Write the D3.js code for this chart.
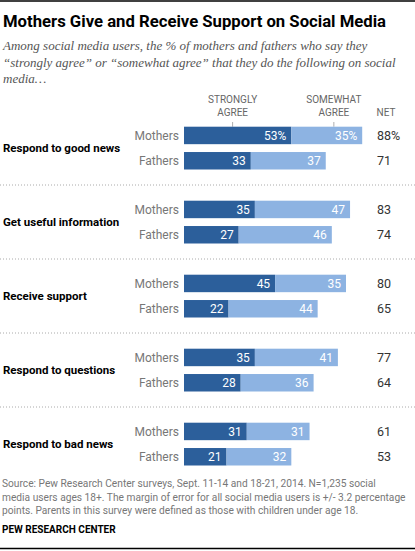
<!DOCTYPE html>
<html>
<head>
<meta charset="utf-8">
<script src="https://cdn.jsdelivr.net/npm/d3@7"></script>
<style>
  body { margin: 0; background: #fff; }
  svg { display: block; font-family: Roboto, "Liberation Sans", sans-serif; }
  .title { font-weight: bold; font-size: 16.7px; fill: #000; }
  .subtitle { font-family: "Liberation Serif", serif; font-style: italic; font-size: 13px; fill: #555; }
  .cat { font-weight: bold; font-size: 11.5px; fill: #000; }
  .who { font-size: 12px; fill: #777; }
  .val { font-size: 12px; fill: #fff; }
  .net { font-size: 12.5px; fill: #333; }
  .head { font-size: 10px; fill: #666; }
  .note { font-size: 10.2px; fill: #777; }
  .brand { font-size: 10px; font-weight: bold; fill: #000; }
</style>
</head>
<body>
<div id="chart"></div>
<script>
// data
const categories = [
  "Respond to good news",
  "Get useful information",
  "Receive support",
  "Respond to questions",
  "Respond to bad news"
];
const groups = ["Mothers", "Fathers"];
const stronglyMothers = [53, 35, 45, 35, 31];
const somewhatMothers = [35, 47, 35, 41, 31];
const stronglyFathers = [33, 27, 22, 28, 21];
const somewhatFathers = [37, 46, 44, 36, 32];
const netMothers = [88, 83, 80, 77, 61];
const netFathers = [71, 74, 65, 64, 53];

const rows = [];
categories.forEach((c, i) => {
  rows.push({ cat: c, who: "Mothers", strong: stronglyMothers[i], some: somewhatMothers[i], net: netMothers[i], first: i === 0 });
  rows.push({ cat: c, who: "Fathers", strong: stronglyFathers[i], some: somewhatFathers[i], net: netFathers[i], first: false });
});

const width = 415, height = 551;
const darkBlue = "#2c5f9b", lightBlue = "#8db3e2";

const svg = d3.select("#chart").append("svg")
  .attr("width", width)
  .attr("height", height);

/** SCALES */
const xScale = d3.scaleLinear().domain([0, 100]).range([184, 386.5]);
const yGroup = d3.scaleBand().domain(categories).range([111, 481]);
const yInner = d3.scaleBand().domain(groups).range([15.7, 58.5]).paddingInner(0.31);

// top & bottom rules
svg.append("line").attr("x1", 0).attr("x2", width).attr("y1", 1).attr("y2", 1)
  .attr("stroke", "#000").attr("stroke-width", 1.5);
svg.append("line").attr("x1", 0).attr("x2", width).attr("y1", 548.5).attr("y2", 548.5)
  .attr("stroke", "#000").attr("stroke-width", 1.5);

svg.append("text").attr("class", "title").attr("x", 3).attr("y", 27)
  .text("Mothers Give and Receive Support on Social Media");

const subLines = [
  "Among social media users, the % of mothers and fathers who say they",
  "\u201cstrongly agree\u201d or \u201csomewhat agree\u201d that they do the following on social",
  "media\u2026"
];
svg.append("g").selectAll("text").data(subLines).join("text")
  .attr("class", "subtitle").attr("x", 3).attr("y", (d, i) => 50 + i * 16.5)
  .text(d => d);

// column heads
const heads = [
  { lines: ["STRONGLY", "AGREE"], at: 24 },
  { lines: ["SOMEWHAT", "AGREE"], at: 74 }
];
heads.forEach(h => {
  const g = svg.append("g");
  g.selectAll("text").data(h.lines).join("text")
    .attr("class", "head").attr("text-anchor", "middle")
    .attr("x", xScale(h.at)).attr("y", (d, i) => 103 + i * 12.5)
    .text(d => d);
  g.append("line")
    .attr("x1", xScale(h.at)).attr("x2", xScale(h.at))
    .attr("y1", 122).attr("y2", yGroup(categories[0]) + yInner("Mothers"))
    .attr("stroke", "#999").attr("stroke-width", 0.8);
});
svg.append("text").attr("class", "head").attr("text-anchor", "middle")
  .attr("x", 386).attr("y", 115.5).text("NET");

// separators
svg.append("g").selectAll("line").data(categories.slice(1)).join("line")
  .attr("x1", 0).attr("x2", width)
  .attr("y1", d => yGroup(d)).attr("y2", d => yGroup(d))
  .attr("stroke", "#aaa").attr("stroke-width", 1).attr("stroke-dasharray", "1,2");

// category labels
svg.append("g").selectAll("text").data(categories).join("text")
  .attr("class", "cat").attr("x", 3)
  .attr("y", d => yGroup(d) + (yInner("Mothers") + yInner("Fathers") + yInner.bandwidth()) / 2)
  .attr("dy", "0.35em")
  .text(d => d);

const rowY = d => yGroup(d.cat) + yInner(d.who);
const bh = yInner.bandwidth();

const row = svg.append("g").selectAll("g").data(rows).join("g");

row.append("text").attr("class", "who").attr("text-anchor", "end")
  .attr("x", xScale(0) - 5).attr("y", d => rowY(d) + bh / 2).attr("dy", "0.35em")
  .text(d => d.who);

row.append("rect")
  .attr("x", xScale(0)).attr("y", rowY)
  .attr("width", d => xScale(d.strong) - xScale(0)).attr("height", bh)
  .attr("fill", darkBlue);
row.append("rect")
  .attr("x", d => xScale(d.strong)).attr("y", rowY)
  .attr("width", d => xScale(d.strong + d.some) - xScale(d.strong)).attr("height", bh)
  .attr("fill", lightBlue);

row.append("text").attr("class", "val").attr("text-anchor", "end")
  .attr("x", d => xScale(d.strong) - 5).attr("y", d => rowY(d) + bh / 2).attr("dy", "0.35em")
  .text(d => d.strong + (d.first ? "%" : ""));
row.append("text").attr("class", "val").attr("text-anchor", "end")
  .attr("x", d => xScale(d.strong + d.some) - 5).attr("y", d => rowY(d) + bh / 2).attr("dy", "0.35em")
  .text(d => d.some + (d.first ? "%" : ""));

row.append("text").attr("class", "net").attr("text-anchor", "end")
  .attr("x", 391).attr("y", d => rowY(d) + bh / 2).attr("dy", "0.35em")
  .text(d => d.net);
row.filter(d => d.first).append("text").attr("class", "net")
  .attr("x", 391).attr("y", d => rowY(d) + bh / 2).attr("dy", "0.35em")
  .text("%");

// footer
const notes = [
  "Source: Pew Research Center surveys, Sept. 11-14 and 18-21, 2014.  N=1,235 social",
  "media users ages 18+. The margin of error for all social media users is +/- 3.2 percentage",
  "points. Parents in this survey were defined as those with children under age 18."
];
svg.append("g").selectAll("text").data(notes).join("text")
  .attr("class", "note").attr("x", 2).attr("y", (d, i) => 487 + i * 13.5)
  .text(d => d);
svg.append("text").attr("class", "brand").attr("x", 2).attr("y", 533)
  .text("PEW RESEARCH CENTER");
</script>
</body>
</html>
